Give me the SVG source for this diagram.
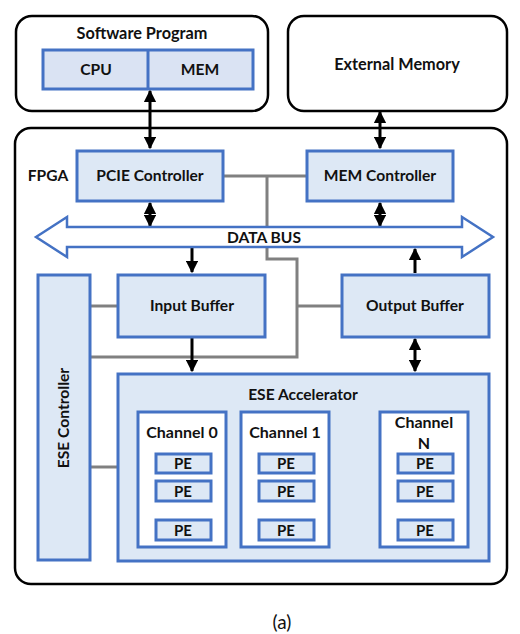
<svg xmlns="http://www.w3.org/2000/svg" width="520" height="634" viewBox="0 0 520 634">
<defs>
<marker id="ah" viewBox="0 0 10 10" refX="9" refY="5" markerWidth="4.2" markerHeight="4.2" orient="auto-start-reverse" markerUnits="strokeWidth">
<path d="M0,0 L10,5 L0,10 z" fill="#000"/>
</marker>
</defs>
<style>
.outer{fill:#fff;stroke:#000;stroke-width:2.5}
.blk{fill:#dde8f5;stroke:#4472c4;stroke-width:3}
.cpu{fill:#dae3f3;stroke:#4472c4;stroke-width:3}
.ch{fill:#fff;stroke:#4472c4;stroke-width:3}
.t{font-family:Lato,"Liberation Sans",sans-serif;font-weight:bold;font-size:15px;fill:#111;text-anchor:middle}
.top{font-size:16.3px}
.blk-t{font-size:15.6px}
.cht{font-size:16px}
.g{fill:none;stroke:#808080;stroke-width:3}
.a{fill:none;stroke:#000;stroke-width:3}
</style>

<g id="software-program">
<rect class="outer" x="16" y="16" width="252" height="95" rx="16"/>
<text class="t top" x="142" y="39">Software Program</text>
</g>
<g id="cpu-mem">
<rect class="cpu" x="43" y="50" width="210" height="39"/>
<line x1="148" y1="50" x2="148" y2="89" stroke="#4472c4" stroke-width="3"/>
<text class="t blk-t" x="96" y="75">CPU</text>
<text class="t blk-t" x="200" y="75">MEM</text>
</g>
<g id="external-memory">
<rect class="outer" x="288" y="16" width="219" height="95" rx="16"/>
<text class="t top" x="397" y="70">External Memory</text>
</g>

<g id="fpga">
<rect class="outer" x="15" y="128" width="492" height="456" rx="16"/>
<text class="t blk-t" x="48" y="181">FPGA</text>
</g>

<g id="connectors">
<polyline class="g" points="223,176 306,176"/>
<polyline class="g" points="267,176 267,259 297,259 297,357 90,357"/>
<polyline class="g" points="297,306 341,306"/>
<polyline class="g" points="90,306 118,306"/>
<polyline class="g" points="90,467 118,467"/>
<line class="a" x1="150" y1="91" x2="150" y2="148" marker-start="url(#ah)" marker-end="url(#ah)"/>
<line class="a" x1="380" y1="112" x2="380" y2="148" marker-start="url(#ah)" marker-end="url(#ah)"/>
<line class="a" x1="150" y1="203" x2="150" y2="226" marker-start="url(#ah)" marker-end="url(#ah)"/>
<line class="a" x1="380" y1="203" x2="380" y2="226" marker-start="url(#ah)" marker-end="url(#ah)"/>
<line class="a" x1="192" y1="248" x2="192" y2="272" marker-end="url(#ah)"/>
<line class="a" x1="415" y1="273" x2="415" y2="249" marker-end="url(#ah)"/>
<line class="a" x1="192" y1="338" x2="192" y2="371" marker-end="url(#ah)"/>
<line class="a" x1="415" y1="339" x2="415" y2="371" marker-start="url(#ah)" marker-end="url(#ah)"/>
</g>

<g id="data-bus">
<path d="M36,237 L67,217 L67,227 L462,227 L462,217 L493,237 L462,257 L462,247 L67,247 L67,257 Z" fill="#fff" stroke="#4472c4" stroke-width="2.5" stroke-linejoin="miter"/>
<text class="t blk-t" x="264" y="243">DATA BUS</text>
</g>

<g id="pcie-controller">
<rect class="blk" x="77" y="151" width="146" height="50"/>
<text class="t blk-t" x="150" y="181">PCIE Controller</text>
</g>
<g id="mem-controller">
<rect class="blk" x="307" y="151" width="146" height="50"/>
<text class="t blk-t" x="380" y="181">MEM Controller</text>
</g>
<g id="input-buffer">
<rect class="blk" x="118" y="275" width="147" height="62"/>
<text class="t blk-t" x="192" y="311">Input Buffer</text>
</g>
<g id="output-buffer">
<rect class="blk" x="342" y="275" width="147" height="62"/>
<text class="t blk-t" x="415" y="311">Output Buffer</text>
</g>
<g id="ese-controller">
<rect class="blk" x="38" y="275" width="52" height="285"/>
<text class="t blk-t" transform="translate(69,418) rotate(-90)">ESE Controller</text>
</g>
<g id="ese-accelerator">
<rect class="blk" x="118" y="374" width="371" height="187"/>
<text class="t blk-t" x="303" y="400">ESE Accelerator</text>
</g>
<g id="channel-0">
<rect class="ch" x="138" y="412" width="88" height="135"/>
<text class="t cht" x="182" y="438">Channel 0</text>
<rect class="blk" x="156" y="454" width="55" height="19"/>
<text class="t" x="183" y="469">PE</text>
<rect class="blk" x="156" y="481" width="55" height="20"/>
<text class="t" x="183" y="497">PE</text>
<rect class="blk" x="156" y="520" width="55" height="20"/>
<text class="t" x="183" y="536">PE</text>
</g>
<g id="channel-1">
<rect class="ch" x="241" y="412" width="88" height="135"/>
<text class="t cht" x="285" y="438">Channel 1</text>
<rect class="blk" x="259" y="454" width="55" height="19"/>
<text class="t" x="286" y="469">PE</text>
<rect class="blk" x="259" y="481" width="55" height="20"/>
<text class="t" x="286" y="497">PE</text>
<rect class="blk" x="259" y="520" width="55" height="20"/>
<text class="t" x="286" y="536">PE</text>
</g>
<g id="channel-n">
<rect class="ch" x="380" y="412" width="88" height="135"/>
<text class="t cht" x="424" y="428">Channel</text>
<text class="t cht" x="424" y="449">N</text>
<rect class="blk" x="398" y="454" width="55" height="19"/>
<text class="t" x="425" y="469">PE</text>
<rect class="blk" x="398" y="481" width="55" height="20"/>
<text class="t" x="425" y="497">PE</text>
<rect class="blk" x="398" y="520" width="55" height="20"/>
<text class="t" x="425" y="536">PE</text>
</g>

<text x="282" y="629" font-family="Lato,'Liberation Sans',sans-serif" font-size="19" text-anchor="middle" fill="#111">(a)</text>
</svg>
